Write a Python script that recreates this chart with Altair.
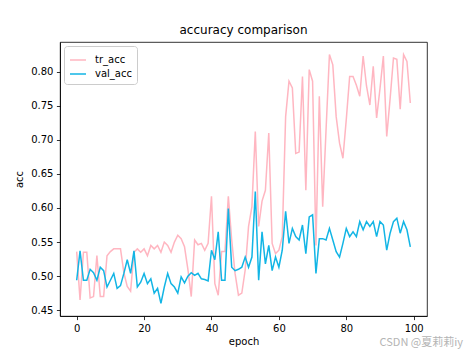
import altair as alt
import pandas as pd

epochs = list(range(100))

tr_acc = [
    0.536, 0.465, 0.535, 0.535, 0.468, 0.470, 0.530, 0.470, 0.470, 0.530,
    0.536, 0.540, 0.540, 0.540, 0.505, 0.485, 0.478, 0.535, 0.540, 0.535,
    0.540, 0.530, 0.545, 0.540, 0.545, 0.535, 0.550, 0.545, 0.535, 0.550,
    0.560, 0.555, 0.543, 0.510, 0.470, 0.553, 0.546, 0.548, 0.538, 0.548,
    0.617, 0.489, 0.472, 0.536, 0.536, 0.617, 0.553, 0.504, 0.472, 0.475,
    0.509, 0.573, 0.602, 0.712, 0.573, 0.610, 0.626, 0.710, 0.548, 0.533,
    0.538, 0.558, 0.734, 0.786, 0.776, 0.680, 0.682, 0.793, 0.626, 0.803,
    0.786, 0.545, 0.764, 0.602, 0.715, 0.825, 0.810, 0.734, 0.695, 0.673,
    0.730, 0.793, 0.793, 0.780, 0.764, 0.823, 0.779, 0.751, 0.808, 0.732,
    0.775, 0.823, 0.705, 0.760, 0.820, 0.818, 0.745, 0.825, 0.815, 0.754,
]

val_acc = [
    0.494, 0.537, 0.494, 0.494, 0.510, 0.505, 0.494, 0.513, 0.508, 0.484,
    0.494, 0.504, 0.482, 0.486, 0.504, 0.524, 0.504, 0.537, 0.484, 0.491,
    0.504, 0.489, 0.496, 0.475, 0.482, 0.460, 0.484, 0.504, 0.489, 0.484,
    0.475, 0.499, 0.490, 0.500, 0.505, 0.501, 0.504, 0.496, 0.495, 0.493,
    0.538, 0.524, 0.565, 0.494, 0.494, 0.599, 0.513, 0.508, 0.510, 0.513,
    0.528, 0.513, 0.528, 0.624, 0.494, 0.565, 0.518, 0.545, 0.508, 0.528,
    0.513, 0.538, 0.595, 0.548, 0.570, 0.558, 0.553, 0.575, 0.533, 0.587,
    0.590, 0.504, 0.555, 0.555, 0.553, 0.570, 0.553, 0.536, 0.528, 0.548,
    0.570, 0.558, 0.565, 0.558, 0.580, 0.568, 0.580, 0.573, 0.580, 0.558,
    0.580, 0.575, 0.538, 0.563, 0.580, 0.585, 0.563, 0.580, 0.568, 0.543,
]

series_names = ["tr_acc", "val_acc"]
series_colors = ["#ffb6c1", "#12b5e5"]
x_ticks = [0, 20, 40, 60, 80, 100]
y_ticks = [0.45, 0.50, 0.55, 0.60, 0.65, 0.70, 0.75, 0.80]
title_text = "accuracy comparison"
x_title = "epoch"
y_title = "acc"
watermark = "CSDN @夏莉莉iy"

FONT = "DejaVu Sans"

df = pd.DataFrame({
    "epoch": epochs + epochs,
    "acc": tr_acc + val_acc,
    "series": [series_names[0]] * len(epochs) + [series_names[1]] * len(epochs),
})

lines = alt.Chart(df).mark_line(strokeWidth=1.5).encode(
    x=alt.X(
        "epoch:Q",
        scale=alt.Scale(domain=[-4.95, 103.95], nice=False, zero=False),
        axis=alt.Axis(values=x_ticks, title=x_title, labelFlush=False, titlePadding=3),
    ),
    y=alt.Y(
        "acc:Q",
        scale=alt.Scale(domain=[0.4415, 0.8435], nice=False, zero=False),
        axis=alt.Axis(values=y_ticks, format=".2f", title=y_title, titlePadding=6),
    ),
    color=alt.Color(
        "series:N",
        scale=alt.Scale(domain=series_names, range=series_colors),
        title=None,
        legend=alt.Legend(
            orient="none",
            legendX=4,
            legendY=4,
            padding=5,
            fillColor="rgba(255,255,255,0.8)",
            strokeColor="#cccccc",
            cornerRadius=3,
            symbolType="stroke",
            symbolSize=256,
            symbolStrokeWidth=1.5,
            labelFont=FONT,
            labelFontSize=10,
            labelColor="#000000",
            labelOffset=8,
            rowPadding=0,
        ),
    ),
)

wm = alt.Chart(pd.DataFrame({"t": [watermark]})).mark_text(
    align="right", baseline="middle", fontSize=11, color="#b4b4b4",
    font="Noto Sans CJK SC",
).encode(
    x=alt.value(403),
    y=alt.value(301),
    text="t:N",
)

chart = alt.layer(lines, wm).properties(
    width=367,
    height=274,
    title=alt.TitleParams(text=title_text, font=FONT, fontSize=12, fontWeight="normal",
                          color="#000000", offset=5),
    autosize=alt.AutoSizeParams(type="none"),
    padding={"left": 52, "top": 34, "right": 39, "bottom": 34},
).configure_view(
    stroke="#000000", strokeWidth=0.8,
).configure_axis(
    grid=False,
    domainColor="#000000",
    domainWidth=0.8,
    tickColor="#000000",
    tickWidth=0.8,
    tickSize=3.6,
    labelPadding=3.5,
    labelFont=FONT,
    labelFontSize=10,
    labelColor="#000000",
    titleFont=FONT,
    titleFontSize=10,
    titleFontWeight="normal",
    titleColor="#000000",
)

chart.save("out.html", embed_options={"renderer": "svg", "actions": False})
